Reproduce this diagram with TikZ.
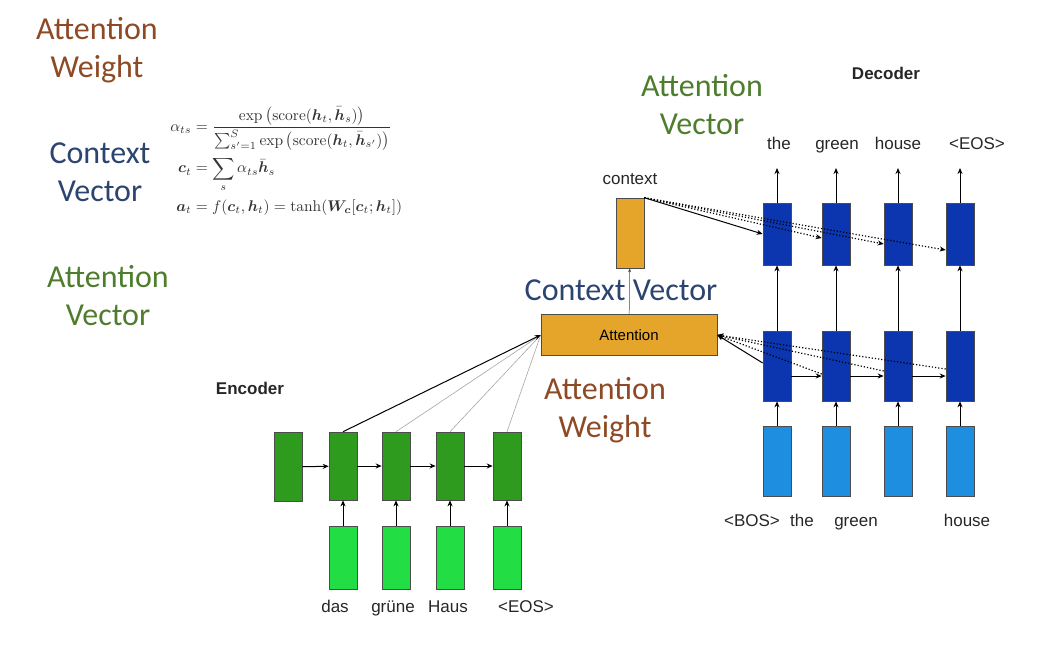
\documentclass[tikz,border=0pt]{standalone}
\usepackage{amsmath,bm}
\usepackage{fontspec}
\newfontfamily\calfnt{Carlito}
\newfontfamily\ari{Liberation Sans}
\usetikzlibrary{arrows.meta}
\definecolor{brn}{HTML}{8E4A25}
\definecolor{cblue}{HTML}{2B4470}
\definecolor{cgreen}{HTML}{4E7D2E}
\definecolor{dg}{HTML}{2E9A1E}
\definecolor{lg}{HTML}{22DD44}
\definecolor{db}{HTML}{0C36B0}
\definecolor{lb}{HTML}{1E8FE0}
\definecolor{org}{HTML}{E4A52A}
\begin{document}
\begin{tikzpicture}[x=1pt,y=-1pt,
 box/.style={draw=black!70,line width=0.6pt,minimum width=28pt,minimum height=#1,inner sep=0pt},
 big/.style={font=\calfnt\fontsize{32}{38}\selectfont,align=center,inner sep=0pt},
 lab/.style={font=\ari\fontsize{17}{19}\selectfont,text=black!85,text height=12pt,text depth=3pt,inner sep=1pt},
 ar/.style={-{Stealth[length=6pt,width=5pt]},line width=1pt},
 dar/.style={-{Stealth[length=6pt,width=5pt]},line width=1.2pt,dotted},
 gr/.style={gray!70,line width=0.6pt}]
\useasboundingbox (0,0) rectangle (1052,648);
% side labels
\node[big,text=brn] (aw1) at (97,50) {Attention\\Weight};
\node[big,text=cblue] (cv1) at (100,172) {Context\\Vector};
\node[big,text=cgreen] (av1) at (108,296) {Attention\\Vector};
\node[big,text=cgreen] (av2) at (702,105) {Attention\\Vector};
\node[big,text=cblue] (cv2) at (621,290) {Context Vector};
\node[big,text=brn] (aw2) at (605,410) {Attention\\Weight};
% equations
\node[anchor=west,text=black!80,scale=1.55,transform shape,inner sep=0pt] (eq) at (170,162) {$\displaystyle\begin{aligned}
\alpha_{ts}&=\frac{\exp\left(\mathrm{score}(\bm{h}_t,\bar{\bm{h}}_s)\right)}{\sum_{s'=1}^{S}\exp\left(\mathrm{score}(\bm{h}_t,\bar{\bm{h}}_{s'})\right)}\\
\bm{c}_t&=\sum_s\alpha_{ts}\bar{\bm{h}}_s\\
\bm{a}_t&=f(\bm{c}_t,\bm{h}_t)=\tanh(\bm{W_c}[\bm{c}_t;\bm{h}_t])
\end{aligned}$};
% encoder
\node[lab,font=\ari\bfseries\fontsize{17}{19}\selectfont] (enc) at (250,390) {Encoder};
\node[box=69pt,fill=dg] (e0) at (288,467) {};
\foreach \i/\x in {1/343,2/396,3/450,4/507}{
 \node[box=68pt,fill=dg] (e\i) at (\x,466) {};
 \node[box=63pt,fill=lg] (x\i) at (\x,558) {};
 \draw[ar] (x\i) -- (e\i);
}
\node[lab] (w1) at (335,608) {das};
\node[lab] (w2) at (393,608) {grüne};
\node[lab] (w3) at (448,608) {Haus};
\node[lab] (w4) at (526,608) {<EOS>};
\foreach \a/\b in {0/1,1/2,2/3,3/4}{\draw[ar] (e\a) -- (e\b);}
% attention and context
\node[box=41pt,minimum width=176pt,fill=org,font=\ari\fontsize{15}{17}\selectfont] (att) at (629,335) {Attention};
\node[box=70pt,fill=org] (ctx) at (630,233) {};
\node[lab] (ctxl) at (630,180) {context};
\draw[-{Stealth[length=4pt,width=3pt]},line width=0.5pt,black!70] (att) -- (ctx);
\foreach \i in {2,3,4}{\draw[gr] (e\i.north) -- (att.west);}
\draw[ar] (e1.north) -- (att.west);
% decoder
\node[lab,font=\ari\bfseries\fontsize{17}{19}\selectfont] (dec) at (886,75) {Decoder};
\foreach \i/\x in {1/777,2/836,3/898,4/960}{
 \node[box=62pt,fill=db] (t\i) at (\x,234) {};
 \node[box=70pt,fill=db] (b\i) at (\x,366) {};
 \node[box=70pt,fill=lb] (y\i) at (\x,461) {};
 \coordinate (o\i) at (\x,168);
 \draw[ar] (y\i) -- (b\i);
 \draw[ar] (b\i) -- (t\i);
 \draw[ar] (t\i) -- (o\i);
}
\node[lab] (ol1) at (779,145) {the};
\node[lab] (ol2) at (837,145) {green};
\node[lab] (ol3) at (898,145) {house};
\node[lab] (ol4) at (977,145) {<EOS>};
\node[lab] (il1) at (752,522) {<BOS>};
\node[lab] (il2) at (802,522) {the};
\node[lab] (il3) at (856,522) {green};
\node[lab] (il4) at (967,522) {house};
\foreach \a/\b in {1/2,2/3,3/4}{\draw[ar] (b\a.east) ++(0,10) coordinate (s\a) -- (b\b.west|-s\a);}
% context to decoder top
\draw[ar] (ctx.north east) -- (t1.west);
\draw[dar] (ctx.north east) -- ([yshift=-4pt]t2.west);
\draw[dar] (ctx.north east) -- ([yshift=-10pt]t3.west);
\draw[dar] (ctx.north east) -- ([yshift=-16pt]t4.west);
% decoder bottom to attention
\draw[ar] ([yshift=3pt]b1.west) -- (att.east);
\draw[dar] ([yshift=-8pt]b2.west) -- (att.east);
\draw[dar] ([yshift=-5pt]b3.west) -- (att.east);
\draw[dar] ([yshift=-3pt]b4.west) -- (att.east);
\end{tikzpicture}
\end{document}
